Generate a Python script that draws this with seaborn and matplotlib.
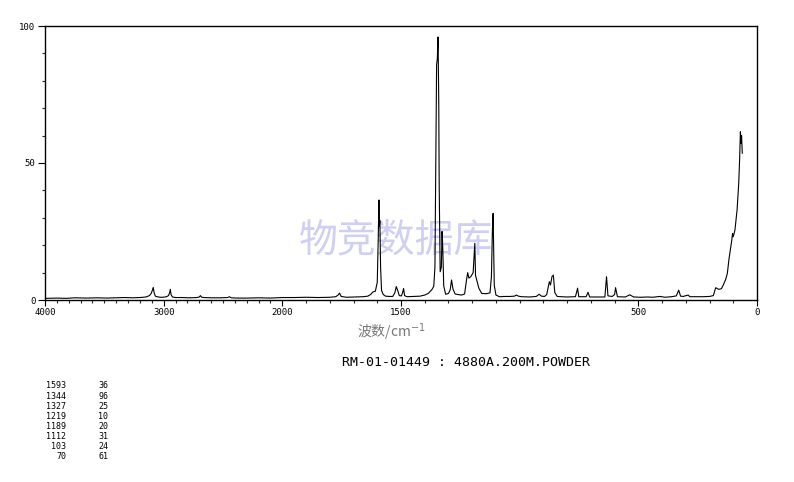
import numpy as np
import pandas as pd
import matplotlib
matplotlib.use('Agg')
import matplotlib.pyplot as plt
import seaborn as sns

# Raman spectrum (cm-1, relative intensity)
wavenumber = [
    4000, 3900, 3820, 3750, 3650, 3560, 3480, 3400, 3330, 3260, 3200, 3150,
    3120, 3105, 3095, 3088, 3080, 3070, 3055, 3030, 3005, 2975, 2960, 2950,
    2944, 2937, 2925, 2900, 2850, 2780, 2720, 2700, 2690, 2680, 2660, 2600,
    2520, 2460, 2447, 2430, 2380, 2300, 2200, 2100, 2050, 2000,
    1950, 1900, 1850, 1800, 1775, 1765, 1759, 1752, 1730, 1700, 1660, 1640,
    1628, 1619, 1608, 1600, 1596, 1593, 1591, 1589, 1586, 1582, 1575, 1565,
    1550, 1535, 1526, 1520, 1514, 1507, 1498, 1493, 1489, 1485, 1475, 1450,
    1420, 1400, 1385, 1370, 1362, 1357, 1353, 1350, 1347, 1344, 1341, 1339,
    1335, 1330, 1327, 1324, 1320, 1312, 1300, 1293, 1287, 1281, 1272, 1260,
    1245, 1232, 1224, 1219, 1214, 1206, 1196, 1189, 1186, 1181, 1172, 1160,
    1140, 1125, 1119, 1115, 1112, 1107, 1100, 1085, 1060, 1040, 1022, 1014,
    1005, 992, 958, 930, 918, 908, 895, 886, 875, 870, 864, 858,
    852, 842, 803, 765, 756, 751, 720, 712, 705, 662, 641, 634,
    628, 610, 600, 596, 588, 555, 536, 520, 490, 460, 440, 409,
    388, 360, 340, 330, 322, 311, 290, 283, 250, 228, 200, 184,
    174, 162, 150, 142, 132, 125, 118, 111, 106, 103, 100, 93,
    84, 77, 73, 70, 67, 65, 62,
]
intensity = [
    0.6, 0.7, 0.6, 0.8, 0.7, 0.8, 0.7, 0.8, 0.9, 0.8, 0.9, 1.1,
    1.6, 2.4, 3.6, 4.6, 2.6, 1.4, 1.2, 1.0, 1.0, 1.2, 1.6, 2.6,
    3.9, 1.8, 1.1, 0.9, 0.9, 0.8, 0.9, 1.1, 1.6, 1.0, 0.9, 0.8,
    0.8, 0.9, 1.2, 0.8, 0.7, 0.7, 0.8, 0.7, 0.8, 0.9,
    0.9, 1.0, 0.9, 1.0, 1.2, 1.8, 2.5, 1.3, 1.0, 1.1, 1.2, 1.4,
    2.0, 2.9, 3.2, 6.5, 22.0, 36.5, 27.0, 29.0, 12.0, 3.5, 2.0, 1.4,
    1.3, 1.3, 2.6, 4.9, 3.5, 1.6, 1.5, 2.8, 4.2, 1.6, 1.2, 1.3,
    1.4, 1.8, 2.4, 3.8, 5.0, 12.0, 54.0, 86.0, 88.0, 96.0, 73.0, 41.0,
    10.3, 12.0, 25.0, 19.0, 5.2, 2.1, 2.4, 3.6, 7.3, 4.0, 2.2, 2.0,
    1.8, 2.2, 7.3, 10.0, 8.0, 8.5, 10.0, 20.7, 9.0, 7.3, 4.3, 2.4,
    2.3, 2.6, 8.5, 25.0, 31.6, 5.4, 1.8, 1.2, 1.3, 1.3, 1.4, 1.8,
    1.4, 1.2, 1.1, 1.3, 2.1, 1.4, 1.3, 2.0, 6.7, 5.5, 8.5, 9.1,
    2.7, 1.3, 1.1, 1.2, 4.3, 1.2, 1.2, 2.8, 1.1, 1.1, 1.1, 8.5,
    1.5, 1.3, 2.0, 4.5, 1.2, 1.1, 1.9, 1.1, 1.0, 1.1, 1.0, 1.3,
    1.0, 1.2, 1.5, 3.6, 1.4, 1.3, 1.8, 1.2, 1.2, 1.2, 1.3, 1.6,
    4.5, 3.9, 4.1, 5.5, 7.5, 9.7, 15.0, 19.0, 22.0, 24.3, 23.1, 25.5,
    32.8, 42.6, 52.0, 61.4, 57.2, 60.0, 53.5,
]

# peak table printed under the chart
peak_pos = ['1593', '1344', '1327', '1219', '1189', '1112', '103', '70']
peak_int = ['36', '96', '25', '10', '20', '31', '24', '61']

x_ticks = [4000, 3000, 2000, 1500, 500, 0]
y_ticks = [0, 50, 100]
title = 'RM-01-01449 : 4880A.200M.POWDER'

sns.set_style('ticks')
plt.rcParams['font.family'] = ['DejaVu Sans Mono', 'DejaVu Sans']


# x axis is compressed by half above 2000 cm-1
def fwd(x):
    x = np.asarray(x, dtype=float)
    return np.where(x > 2000, 2000 + (x - 2000) / 2, x)


def inv(t):
    t = np.asarray(t, dtype=float)
    return np.where(t > 2000, 2000 + (t - 2000) * 2, t)


df = pd.DataFrame({'wn': wavenumber, 'I': intensity})

fig = plt.figure(figsize=(7.94, 4.82), dpi=100)
ax = fig.add_axes([45 / 794, 1 - 300 / 482, 712 / 794, 274 / 482])

sns.lineplot(data=df, x='wn', y='I', ax=ax, color='black', lw=0.8,
             sort=False, estimator=None, zorder=3)

ax.set_xscale('function', functions=(fwd, inv))
ax.set_xlim(4000, 0)
ax.set_ylim(0, 100)
ax.set_xlabel('')
ax.set_ylabel('')

ax.set_xticks(x_ticks)
ax.set_xticklabels([str(v) for v in x_ticks])
ax.set_xticks(np.arange(0, 4001, 100), minor=True)
ax.set_yticks(y_ticks)
ax.set_yticklabels([str(v) for v in y_ticks])
ax.set_yticks(np.arange(0, 101, 10), minor=True)

ax.tick_params(axis='x', which='major', direction='out', length=4.5, width=0.8,
               labelsize=6.5, pad=1.5, colors='black')
ax.tick_params(axis='x', which='minor', direction='out', length=2.4, width=0.8)
ax.tick_params(axis='y', which='major', direction='out', length=5, width=0.8,
               labelsize=6.5, pad=2, colors='black')
ax.tick_params(axis='y', which='minor', direction='out', length=2, width=0.8)

for s in ax.spines.values():
    s.set_visible(True)
    s.set_color('black')
    s.set_linewidth(1.0)

# watermark
ax.text(396 / 794, 1 - 241 / 482, '物竞数据库', transform=fig.transFigure,
        ha='center', va='center', fontsize=28, color='#cfcff3',
        family=['Noto Sans CJK SC', 'DejaVu Sans'], zorder=1)

# axis label
fig.text(391 / 794, 1 - 332 / 482, '波数/cm$^{-1}$', ha='center', va='center',
         fontsize=10, color='#777777', family=['Noto Sans CJK SC', 'DejaVu Sans'])

fig.text(466 / 794, 1 - 363 / 482, title, ha='center', va='center',
         fontsize=9.5, color='black')

# peak list
for i, (p, v) in enumerate(zip(peak_pos, peak_int)):
    yy = 1 - (386 + i * 10.1) / 482
    fig.text(66 / 794, yy, p, ha='right', va='center', fontsize=6, color='black')
    fig.text(108 / 794, yy, v, ha='right', va='center', fontsize=6, color='black')

plt.savefig('out.png', dpi=100)
plt.close()
